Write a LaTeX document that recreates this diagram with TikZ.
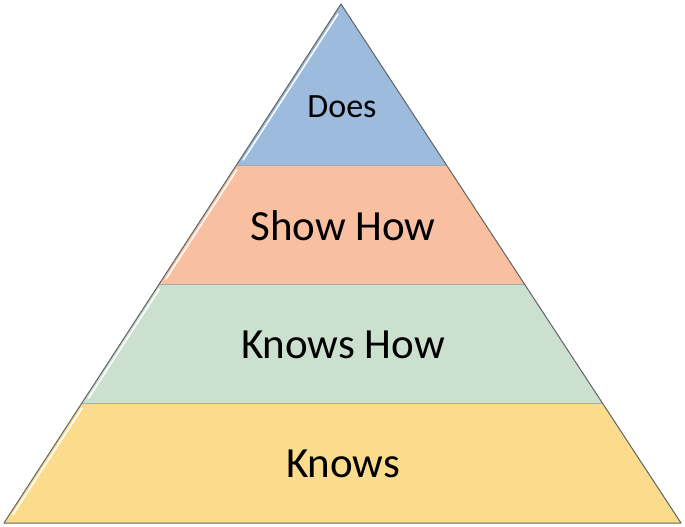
\documentclass[tikz,border=0pt]{standalone}
\usetikzlibrary{calc}
\usepackage{fontspec}
\setmainfont{Carlito}
\definecolor{cblue}{RGB}{157,188,221}
\definecolor{csalmon}{RGB}{248,192,161}
\definecolor{cgreen}{RGB}{203,224,206}
\definecolor{cyellow}{RGB}{251,220,140}
\definecolor{cedge}{RGB}{95,100,100}
\begin{document}
\begin{tikzpicture}[x=1pt,y=-1pt,
  lbl/.style={font=\fontsize{#1}{#1}\selectfont,text=black,inner sep=0pt},
  hl/.style={white,line width=1.5pt,line cap=round}]
\useasboundingbox (0,0) rectangle (685,527);
% key points
\coordinate (A) at (341,4);
\coordinate (BL) at (4,523);
\coordinate (BR) at (681,523);
% boundaries y: 165, 284, 403
\path (BL) -- (A) coordinate[pos={(523-165)/519}] (L1)
               coordinate[pos={(523-284)/519}] (L2)
               coordinate[pos={(523-403)/519}] (L3);
\path (BR) -- (A) coordinate[pos={(523-165)/519}] (R1)
               coordinate[pos={(523-284)/519}] (R2)
               coordinate[pos={(523-403)/519}] (R3);
\fill[cblue] (A) -- (L1) -- (R1) -- cycle;
\fill[csalmon] (L1) -- (L2) -- (R2) -- (R1) -- cycle;
\fill[cgreen] (L2) -- (L3) -- (R3) -- (R2) -- cycle;
\fill[cyellow] (L3) -- (BL) -- (BR) -- (R3) -- cycle;
% white highlight along left edge, just inside
\draw[hl] ($(A)!12pt!(L1)+(3.5,0)$) -- ($(L1)!6pt!(A)+(3.5,0)$);
\draw[hl] ($(L1)!6pt!(L2)+(3.5,0)$) -- ($(L2)!6pt!(L1)+(3.5,0)$);
\draw[hl] ($(L2)!6pt!(L3)+(3.5,0)$) -- ($(L3)!6pt!(L2)+(3.5,0)$);
\draw[hl] ($(L3)!6pt!(BL)+(3.5,0)$) -- ($(BL)!10pt!(L3)+(3.5,0)$);
% separators
\draw[cedge!55,line width=0.8pt] (L1) -- (R1);
\draw[cedge!55,line width=0.8pt] (L2) -- (R2);
\draw[cedge!55,line width=0.8pt] (L3) -- (R3);
% outline
\draw[cedge,line width=1pt,line join=round] (A) -- (BL) -- (BR) -- cycle;
% labels
\node[lbl=34] (does) at (342,107) {Does};
\node[lbl=43] (show) at (343,226) {Show How};
\node[lbl=43] (knowshow) at (343,345) {Knows How};
\node[lbl=43] (knows) at (343,464) {Knows};
\end{tikzpicture}
\end{document}
